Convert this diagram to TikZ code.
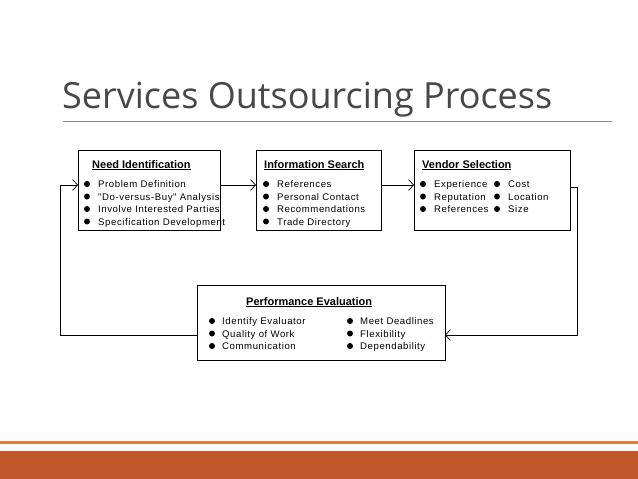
\documentclass[tikz,border=0pt]{standalone}
\usepackage{fontspec}
\setmainfont{Liberation Sans}
\newfontfamily\titlefont{Open Sans}
\newfontfamily\bodyfont[LetterSpace=6]{Liberation Sans}
\usetikzlibrary{arrows.meta}
\definecolor{rust}{HTML}{C0582B}
\definecolor{rustl}{HTML}{E07B39}
\begin{document}
\begin{tikzpicture}[x=1pt,y=-1pt,
  box/.style={draw,line width=0.8pt},
  hd/.style={anchor=base west,font=\fontsize{11}{12}\selectfont\bfseries,inner sep=0},
  it/.style={anchor=base west,font=\bodyfont\fontsize{9.6}{10}\selectfont,inner sep=0},
  bl/.style={anchor=center,circle,fill,inner sep=0,minimum size=6pt},
  conn/.style={line width=0.7pt,-{Straight Barb[length=5pt,width=11pt]}}]
\useasboundingbox (0,0) rectangle (638,479);
\node[anchor=base west,inner sep=0,text=black!72,font=\titlefont\fontsize{36}{38}\selectfont] (title) at (62,108) {Services Outsourcing Process};
\draw[black!45,line width=0.5pt] (63,121) coordinate (l1) -- (612,121) coordinate (l2);
\fill[rustl] (0,441) rectangle (638,444);
\fill[rust] (0,451) rectangle (638,479);
% boxes
\draw[box] (78,150) rectangle (220,230); \coordinate (ni) at (78,185); \coordinate (nir) at (220,185);
\draw[box] (256,150) rectangle (381,230); \coordinate (isl) at (256,185); \coordinate (isr) at (381,185);
\draw[box] (414,150) rectangle (570,230); \coordinate (vsl) at (414,185); \coordinate (vsr) at (570,187);
\draw[box] (197,285) rectangle (445,360); \coordinate (pel) at (197,335); \coordinate (per) at (445,335);
% headers
\node[hd] (h1) at (92,168) {\underline{Need Identification}};
\node[hd] (h2) at (264,168) {\underline{Information Search}};
\node[hd] (h3) at (422,168) {\underline{Vendor Selection}};
\node[hd] (h4) at (246,305) {\underline{Performance Evaluation}};
\foreach \t [count=\i] in {Problem Definition,{"Do-versus-Buy" Analysis},Involve Interested Parties,Specification Development}{
  \node[bl] (nb\i) at (87,{184+12.5*(\i-1)}) {};
  \node[it] (nt\i) at (98,{187.5+12.5*(\i-1)}) {\t};}
\foreach \t [count=\i] in {References,Personal Contact,Recommendations,Trade Directory}{
  \node[bl] (ib\i) at (266,{184+12.5*(\i-1)}) {};
  \node[it] (iT\i) at (277,{187.5+12.5*(\i-1)}) {\t};}
\foreach \t [count=\i] in {Experience,Reputation,References}{
  \node[bl] (vb\i) at (423,{184+12.5*(\i-1)}) {};
  \node[it] (vt\i) at (434,{187.5+12.5*(\i-1)}) {\t};}
\foreach \t [count=\i] in {Cost,Location,Size}{
  \node[bl] (wb\i) at (497,{184+12.5*(\i-1)}) {};
  \node[it] (wt\i) at (508,{187.5+12.5*(\i-1)}) {\t};}
\foreach \t [count=\i] in {Identify Evaluator,Quality of Work,Communication}{
  \node[bl] (pb\i) at (212,{321+12.5*(\i-1)}) {};
  \node[it] (pt\i) at (222,{324.5+12.5*(\i-1)}) {\t};}
\foreach \t [count=\i] in {Meet Deadlines,Flexibility,Dependability}{
  \node[bl] (qb\i) at (350,{321+12.5*(\i-1)}) {};
  \node[it] (qt\i) at (360,{324.5+12.5*(\i-1)}) {\t};}
\draw[conn] (nir) -- (isl);
\draw[conn] (isr) -- (vsl);
\draw[conn] (vsr) -- (577,187) -- (577,335) -- (per);
\draw[conn] (pel) -- (60,335) -- (60,185) -- (ni);
\end{tikzpicture}
\end{document}
